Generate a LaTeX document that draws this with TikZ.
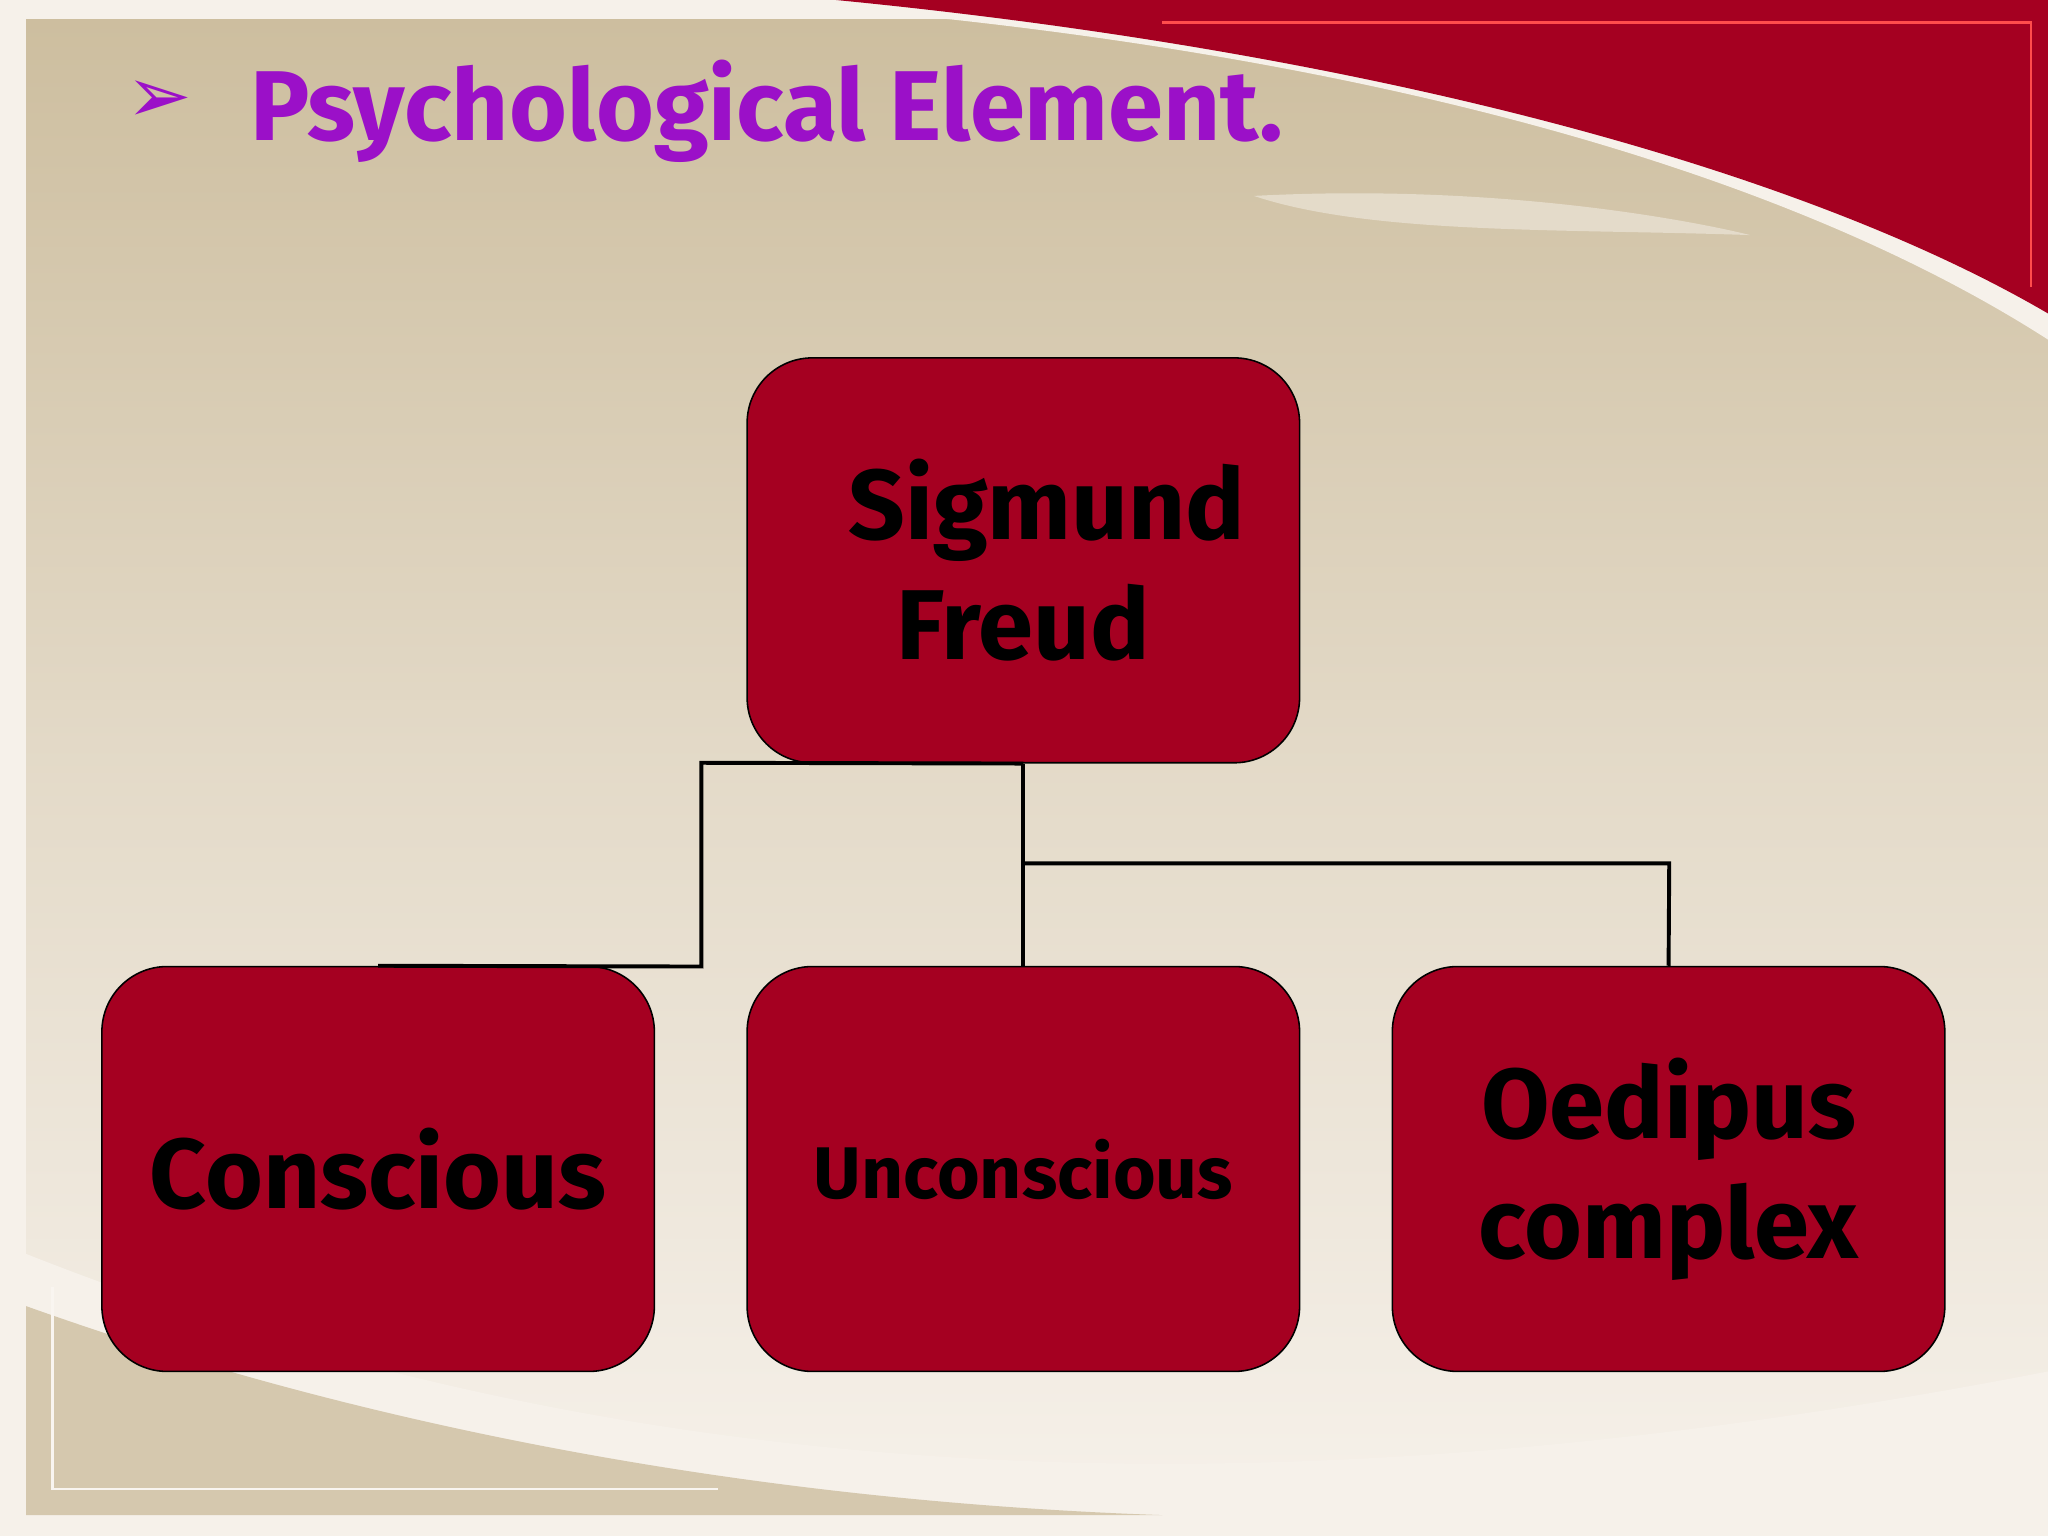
\documentclass[tikz,border=0pt]{standalone}
\usepackage{fontspec}
\setmainfont{Fira Sans}
\newfontfamily\symfont{DejaVu Sans}
\definecolor{boxred}{HTML}{A50021}
\definecolor{tan}{HTML}{CDBE9F}
\definecolor{cream}{HTML}{F6F1EA}
\definecolor{titlec}{HTML}{9B10C8}
\tikzset{
  box/.style={draw=black,line width=0.6pt,fill=boxred,rounded corners=25pt,minimum width=211.5pt,minimum height=155pt,align=center,inner sep=0pt},
  bigtext/.style={font=\fontsize{38}{46}\selectfont\bfseries},
  conn/.style={draw=black,line width=1.5pt}
}
\begin{document}
\begin{tikzpicture}[x=0.5pt,y=-0.5pt]
\useasboundingbox (0,0) rectangle (1568,1176);
\fill[cream] (0,0) rectangle (1568,1176);
\shade[top color=tan,bottom color=cream,middle color=tan!45!cream] (20,15) rectangle (1568,1160);
\fill[cream] (20,960) .. controls (500,1150) and (1000,1160) .. (1568,1050) -- (1568,1160) -- (20,1160) -- cycle;
\fill[tan!80!cream] (20,1000) .. controls (300,1100) and (600,1150) .. (890,1160) -- (20,1160) -- cycle;
\draw[cream!70!white,line width=1pt] (40,985) -- (40,1140) -- (550,1140);
\fill[cream] (560,0) .. controls (1000,30) and (1350,120) .. (1568,260) -- (1568,0) -- cycle;
\fill[boxred] (640,0) .. controls (1050,40) and (1380,130) .. (1568,240) -- (1568,0) -- cycle;
\draw[red!70!white,line width=1pt] (890,17) -- (1555,17) -- (1555,220);
\fill[cream,opacity=0.5] (960,150) .. controls (1150,140) and (1300,170) .. (1340,180) .. controls (1200,175) and (1050,180) .. (960,150) -- cycle;
\node[text=titlec,anchor=west] (arr) at (90,78) {\symfont\fontsize{30}{30}\selectfont ➢};
\node[font=\fontsize{38}{38}\selectfont\bfseries,text=titlec,anchor=west] (title) at (185,85) {Psychological Element.};
\node[box,bigtext] (freud) at (783.5,429) {\ \ Sigmund\\Freud};
\node[box,bigtext] (cons) at (289.5,895) {Conscious};
\node[box,font=\fontsize{28}{34}\selectfont\bfseries] (uncons) at (783.5,895) {Unconscious};
\node[box,bigtext] (oed) at (1277.5,895) {Oedipus\\complex};
\coordinate (j1) at (537,584);
\coordinate (j2) at (537,740);
\coordinate (j3) at (783.5,661);
\coordinate (j4) at (1278,661);
\draw[conn] (freud.south) -- (j1) -- (j2) -- (cons.north);
\draw[conn] (freud.south) -- (uncons.north);
\draw[conn] (j3) -- (j4) -- (oed.north);
\end{tikzpicture}
\end{document}
